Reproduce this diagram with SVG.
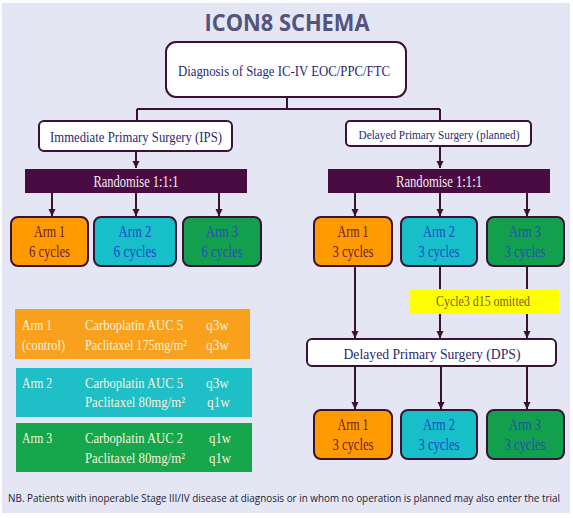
<svg xmlns="http://www.w3.org/2000/svg" width="573" height="518" viewBox="0 0 573 518">
<defs>
<marker id="ah" markerWidth="8" markerHeight="8" refX="7" refY="4" orient="auto" markerUnits="userSpaceOnUse">
<path d="M0,0.5 L7.5,4 L0,7.5 Z" fill="#3a1236"/>
</marker>
<style>
.node{stroke:#3a1236;stroke-width:2}
.wh{fill:#ffffff}
text{font-family:'Liberation Serif',serif}
.nt{fill:#2a2a6e;font-size:15px}
.bar{fill:#4a0b42}
.bt{fill:#f2ecf2;font-size:16px}
.at{font-size:16px}
.lg{fill:#f6f2dc;font-size:15px}
.cn{stroke:#3a1236;stroke-width:2;fill:none}
.sans{font-family:'Open Sans','DejaVu Sans',sans-serif}
</style>
</defs>
<rect x="0" y="0" width="573" height="518" fill="#ffffff"/>
<rect x="2" y="3" width="568" height="510" fill="#e4e6f3"/>
<text class="sans" x="287" y="31" text-anchor="middle" font-weight="bold" font-size="24" fill="#52537f" textLength="165" lengthAdjust="spacingAndGlyphs">ICON8 SCHEMA</text>

<g id="connectors">
<path class="cn" d="M287,97 V109 M137,109 H440 M137,109 V121 M440,109 V121"/>
<path class="cn" d="M136,151 V168" marker-end="url(#ah)"/>
<path class="cn" d="M440,146 V168" marker-end="url(#ah)"/>
<path class="cn" d="M52,193 V216" marker-end="url(#ah)"/>
<path class="cn" d="M136,193 V216" marker-end="url(#ah)"/>
<path class="cn" d="M219,193 V216" marker-end="url(#ah)"/>
<path class="cn" d="M355,193 V216" marker-end="url(#ah)"/>
<path class="cn" d="M440,193 V216" marker-end="url(#ah)"/>
<path class="cn" d="M527,193 V216" marker-end="url(#ah)"/>
<path class="cn" d="M355,266 V338" marker-end="url(#ah)"/>
<path class="cn" d="M440,266 V338" marker-end="url(#ah)"/>
<path class="cn" d="M527,266 V338" marker-end="url(#ah)"/>
<path class="cn" d="M355,366 V409" marker-end="url(#ah)"/>
<path class="cn" d="M441,366 V409" marker-end="url(#ah)"/>
<path class="cn" d="M527,366 V409" marker-end="url(#ah)"/>
</g>

<g id="diagnosis">
<rect class="node wh" x="166" y="42" width="240" height="55" rx="10"/>
<text class="nt" x="284" y="76" text-anchor="middle" textLength="212" lengthAdjust="spacingAndGlyphs">Diagnosis of Stage IC-IV EOC/PPC/FTC</text>
</g>
<g id="ips">
<rect class="node wh" x="39" y="121" width="193" height="30" rx="5"/>
<text class="nt" x="136" y="142" text-anchor="middle" textLength="172" lengthAdjust="spacingAndGlyphs">Immediate Primary Surgery (IPS)</text>
</g>
<g id="dps-planned">
<rect class="node wh" x="346" y="121" width="185" height="25" rx="4"/>
<text class="nt" x="439" y="139" text-anchor="middle" style="font-size:13px" textLength="161" lengthAdjust="spacingAndGlyphs">Delayed Primary Surgery (planned)</text>
</g>
<g id="randomise-left">
<rect class="bar" x="25" y="169" width="222" height="24"/>
<text class="bt" x="136" y="187" text-anchor="middle" textLength="85" lengthAdjust="spacingAndGlyphs">Randomise 1:1:1</text>
</g>
<g id="randomise-right">
<rect class="bar" x="328" y="169" width="222" height="24"/>
<text class="bt" x="439" y="187" text-anchor="middle" textLength="86" lengthAdjust="spacingAndGlyphs">Randomise 1:1:1</text>
</g>

<g id="ips-arm1">
<rect class="node" fill="#ff9a00" x="11" y="217" width="77" height="49" rx="7"/>
<text class="at" fill="#6a1a3c" x="49.5" y="237" text-anchor="middle" textLength="31" lengthAdjust="spacingAndGlyphs">Arm 1</text>
<text class="at" fill="#6a1a3c" x="49.5" y="257" text-anchor="middle" textLength="41" lengthAdjust="spacingAndGlyphs">6 cycles</text>
</g>
<g id="ips-arm2">
<rect class="node" fill="#17c0c8" x="94" y="217" width="82" height="49" rx="7"/>
<text class="at" fill="#1e46c8" x="135" y="237" text-anchor="middle" textLength="33" lengthAdjust="spacingAndGlyphs">Arm 2</text>
<text class="at" fill="#1e46c8" x="135" y="257" text-anchor="middle" textLength="43" lengthAdjust="spacingAndGlyphs">6 cycles</text>
</g>
<g id="ips-arm3">
<rect class="node" fill="#13a04e" x="183" y="217" width="78" height="49" rx="7"/>
<text class="at" fill="#2450b4" x="222" y="237" text-anchor="middle" textLength="32" lengthAdjust="spacingAndGlyphs">Arm 3</text>
<text class="at" fill="#2450b4" x="222" y="257" text-anchor="middle" textLength="41" lengthAdjust="spacingAndGlyphs">6 cycles</text>
</g>

<g id="dps-arm1">
<rect class="node" fill="#ff9a00" x="314" y="217" width="78" height="49" rx="7"/>
<text class="at" fill="#6a1a3c" x="353" y="237" text-anchor="middle" textLength="31" lengthAdjust="spacingAndGlyphs">Arm 1</text>
<text class="at" fill="#6a1a3c" x="353" y="257" text-anchor="middle" textLength="41" lengthAdjust="spacingAndGlyphs">3 cycles</text>
</g>
<g id="dps-arm2">
<rect class="node" fill="#17c0c8" x="401" y="217" width="76" height="49" rx="7"/>
<text class="at" fill="#1e46c8" x="439" y="237" text-anchor="middle" textLength="32" lengthAdjust="spacingAndGlyphs">Arm 2</text>
<text class="at" fill="#1e46c8" x="439" y="257" text-anchor="middle" textLength="41" lengthAdjust="spacingAndGlyphs">3 cycles</text>
</g>
<g id="dps-arm3">
<rect class="node" fill="#13a04e" x="487" y="217" width="77" height="49" rx="7"/>
<text class="at" fill="#2450b4" x="525" y="237" text-anchor="middle" textLength="32" lengthAdjust="spacingAndGlyphs">Arm 3</text>
<text class="at" fill="#2450b4" x="525" y="257" text-anchor="middle" textLength="41" lengthAdjust="spacingAndGlyphs">3 cycles</text>
</g>

<g id="cycle3-note">
<rect fill="#ffff00" x="409" y="289" width="150" height="25"/>
<text fill="#7a5a2c" font-size="14" x="483" y="306" text-anchor="middle" textLength="94" lengthAdjust="spacingAndGlyphs">Cycle3 d15 omitted</text>
</g>

<g id="dps">
<rect class="node wh" x="307" y="339" width="249" height="27" rx="5"/>
<text class="nt" x="432" y="359" text-anchor="middle" textLength="177" lengthAdjust="spacingAndGlyphs">Delayed Primary Surgery (DPS)</text>
</g>

<g id="post-arm1">
<rect class="node" fill="#ff9a00" x="314" y="410" width="78" height="49" rx="7"/>
<text class="at" fill="#6a1a3c" x="353" y="430" text-anchor="middle" textLength="31" lengthAdjust="spacingAndGlyphs">Arm 1</text>
<text class="at" fill="#6a1a3c" x="353" y="450" text-anchor="middle" textLength="41" lengthAdjust="spacingAndGlyphs">3 cycles</text>
</g>
<g id="post-arm2">
<rect class="node" fill="#17c0c8" x="401" y="410" width="76" height="49" rx="7"/>
<text class="at" fill="#1e46c8" x="439" y="430" text-anchor="middle" textLength="32" lengthAdjust="spacingAndGlyphs">Arm 2</text>
<text class="at" fill="#1e46c8" x="439" y="450" text-anchor="middle" textLength="41" lengthAdjust="spacingAndGlyphs">3 cycles</text>
</g>
<g id="post-arm3">
<rect class="node" fill="#13a04e" x="487" y="410" width="77" height="49" rx="7"/>
<text class="at" fill="#2450b4" x="525" y="430" text-anchor="middle" textLength="32" lengthAdjust="spacingAndGlyphs">Arm 3</text>
<text class="at" fill="#2450b4" x="525" y="450" text-anchor="middle" textLength="41" lengthAdjust="spacingAndGlyphs">3 cycles</text>
</g>

<g id="legend-arm1">
<rect fill="#f9a11c" x="15" y="309" width="235" height="50"/>
<text class="lg" x="22" y="330" textLength="30" lengthAdjust="spacingAndGlyphs">Arm 1</text>
<text class="lg" x="22" y="350" textLength="43" lengthAdjust="spacingAndGlyphs">(control)</text>
<text class="lg" x="85" y="330" textLength="98" lengthAdjust="spacingAndGlyphs">Carboplatin AUC 5</text>
<text class="lg" x="85" y="350" textLength="102" lengthAdjust="spacingAndGlyphs">Paclitaxel 175mg/m²</text>
<text class="lg" x="206" y="330" textLength="23" lengthAdjust="spacingAndGlyphs">q3w</text>
<text class="lg" x="206" y="350" textLength="23" lengthAdjust="spacingAndGlyphs">q3w</text>
</g>
<g id="legend-arm2">
<rect fill="#1ebfc6" x="16" y="368" width="236" height="49"/>
<text class="lg" x="22" y="388" textLength="30" lengthAdjust="spacingAndGlyphs">Arm 2</text>
<text class="lg" x="85" y="388" textLength="98" lengthAdjust="spacingAndGlyphs">Carboplatin AUC 5</text>
<text class="lg" x="85" y="407" textLength="100" lengthAdjust="spacingAndGlyphs">Paclitaxel 80mg/m²</text>
<text class="lg" x="206" y="388" textLength="23" lengthAdjust="spacingAndGlyphs">q3w</text>
<text class="lg" x="207" y="407" textLength="23" lengthAdjust="spacingAndGlyphs">q1w</text>
</g>
<g id="legend-arm3">
<rect fill="#16a64c" x="16" y="423" width="236" height="49"/>
<text class="lg" x="22" y="443" textLength="30" lengthAdjust="spacingAndGlyphs">Arm 3</text>
<text class="lg" x="85" y="443" textLength="98" lengthAdjust="spacingAndGlyphs">Carboplatin AUC 2</text>
<text class="lg" x="85" y="463" textLength="100" lengthAdjust="spacingAndGlyphs">Paclitaxel 80mg/m²</text>
<text class="lg" x="209" y="443" textLength="22" lengthAdjust="spacingAndGlyphs">q1w</text>
<text class="lg" x="209" y="463" textLength="22" lengthAdjust="spacingAndGlyphs">q1w</text>
</g>

<text class="sans" x="8" y="502" font-size="11.5" fill="#222233" textLength="552" lengthAdjust="spacingAndGlyphs">NB. Patients with inoperable Stage III/IV disease at diagnosis or in whom no operation is planned may also enter the trial</text>
</svg>
